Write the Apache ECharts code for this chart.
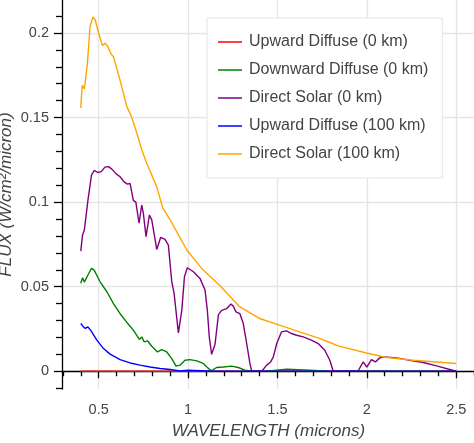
<!DOCTYPE html>
<html lang="en">
<head>
<meta charset="UTF-8">
<title>Solar flux</title>
<script src="https://cdn.jsdelivr.net/npm/echarts@6/dist/echarts.min.js"></script>
<style>
  html, body { margin: 0; padding: 0; background: #fff; }
  #chart { width: 474px; height: 443px; }
</style>
</head>
<body>
<div id="chart"></div>
<script>
// wavelength (microns) / flux (W/cm2/micron)
var wlUpDiff0 = [0.40, 2.50];
var fluxUpDiff0 = [0, 0];

var wlDownDiff0 = [0.40, 0.41, 0.42, 0.44, 0.46, 0.475, 0.508, 0.546, 0.583, 0.62, 0.657, 0.694,
  0.728, 0.741, 0.754, 0.773, 0.797, 0.829, 0.853, 0.881, 0.909, 0.933, 0.955, 0.983, 1.011,
  1.049, 1.085, 1.108, 1.13, 1.16, 1.197, 1.244, 1.281, 1.318, 1.356, 1.44, 1.496, 1.551,
  1.68, 1.79, 2.50];
var fluxDownDiff0 = [0.052, 0.0553, 0.0527, 0.0569, 0.0608, 0.0598, 0.0529, 0.047, 0.040, 0.034,
  0.029, 0.0243, 0.0188, 0.0203, 0.0174, 0.018, 0.0148, 0.0114, 0.0128, 0.0114, 0.0075, 0.003,
  0.0036, 0.0065, 0.0069, 0.0061, 0.0046, 0.0022, 0.0002, 0.0022, 0.0025, 0.003, 0.0022,
  0.0006, 0, 0, 0.0006, 0.0012, 0.0006, 0, 0];

var wlDirect0 = [0.40, 0.41, 0.42, 0.44, 0.46, 0.475, 0.495, 0.515, 0.535, 0.555, 0.574, 0.598,
  0.62, 0.642, 0.661, 0.676, 0.694, 0.708, 0.726, 0.741, 0.75, 0.765, 0.784, 0.797, 0.825,
  0.847, 0.871, 0.89, 0.909, 0.922, 0.946, 0.965, 0.98, 0.996, 1.03, 1.067, 1.095, 1.108,
  1.119, 1.132, 1.151, 1.17, 1.188, 1.216, 1.24, 1.253, 1.268, 1.29, 1.309, 1.328, 1.346,
  1.356, 1.412, 1.44, 1.462, 1.477, 1.496, 1.523, 1.551, 1.579, 1.607, 1.644, 1.69, 1.728,
  1.765, 1.793, 1.812, 1.95, 1.98, 2.0, 2.026, 2.048, 2.072, 2.10, 2.166, 2.24, 2.315, 2.39, 2.50];
var fluxDirect0 = [0.071, 0.0806, 0.0835, 0.101, 0.116, 0.1187, 0.1175, 0.118, 0.1207, 0.121,
  0.1195, 0.1167, 0.115, 0.112, 0.1106, 0.111, 0.101, 0.100, 0.0875, 0.0983, 0.0934, 0.0796,
  0.0924, 0.0895, 0.072, 0.0792, 0.078, 0.0746, 0.0529, 0.046, 0.0227, 0.036, 0.0559, 0.0612,
  0.0588, 0.0549, 0.048, 0.036, 0.020, 0.0100, 0.016, 0.0335, 0.036, 0.037, 0.0397, 0.0385,
  0.0351, 0.034, 0.0282, 0.0164, 0.0046, 0, 0, 0.0036, 0.0055, 0.0085, 0.0164, 0.0233, 0.0239,
  0.0223, 0.0213, 0.0203, 0.0184, 0.0164, 0.0124, 0.0065, 0, 0, 0.0055, 0.0025, 0.0069, 0.0055,
  0.0079, 0.0085, 0.0079, 0.0065, 0.0052, 0.0032, 0];

var wlUpDiff100 = [0.40, 0.41, 0.425, 0.44, 0.455, 0.49, 0.527, 0.564, 0.62, 0.676, 0.732, 0.788,
  0.844, 0.90, 0.955, 1.0, 1.07, 1.14, 2.50];
var fluxUpDiff100 = [0.0282, 0.0268, 0.0253, 0.0262, 0.0243, 0.0184, 0.0134, 0.0101, 0.0069,
  0.0049, 0.0036, 0.0025, 0.0016, 0.001, 0.0002, 0.0006, 0.0003, 0, 0];

var wlDirect100 = [0.40, 0.408, 0.42, 0.437, 0.452, 0.468, 0.48, 0.50, 0.521, 0.536, 0.551, 0.57,
  0.583, 0.62, 0.657, 0.682, 0.713, 0.741, 0.769, 0.825, 0.859, 0.90, 0.993, 1.067, 1.085,
  1.179, 1.29, 1.40, 1.512, 1.623, 1.735, 1.793, 1.84, 1.998, 2.11, 2.259, 2.50];
var fluxDirect100 = [0.1556, 0.169, 0.167, 0.182, 0.204, 0.2095, 0.208, 0.200, 0.1925, 0.194,
  0.192, 0.1875, 0.186, 0.172, 0.1566, 0.151, 0.141, 0.131, 0.123, 0.109, 0.0964, 0.0895,
  0.0717, 0.0620, 0.0598, 0.0505, 0.038, 0.0312, 0.0273, 0.0233, 0.0194, 0.0170, 0.015,
  0.0108, 0.0081, 0.0065, 0.0046];

var xMajor = [0.5, 1, 1.5, 2, 2.5];
var xMinor = [0.3, 0.4, 0.6, 0.7, 0.8, 0.9, 1.1, 1.2, 1.3, 1.4, 1.6, 1.7, 1.8, 1.9,
  2.1, 2.2, 2.3, 2.4, 2.6];
var yMajor = [0, 0.05, 0.1, 0.15, 0.2];
var yMinor = [-0.01, 0.01, 0.02, 0.03, 0.04, 0.06, 0.07, 0.08, 0.09, 0.11, 0.12, 0.13, 0.14,
  0.16, 0.17, 0.18, 0.19, 0.21];

var seriesNames = ['Upward Diffuse (0 km)', 'Downward Diffuse (0 km)', 'Direct Solar (0 km)',
  'Upward Diffuse (100 km)', 'Direct Solar (100 km)'];
var seriesColors = ['red', 'green', 'purple', 'blue', 'orange'];

function pairs(xs, ys) {
  return xs.map(function (x, i) { return [x, ys[i]]; });
}
var allData = [
  pairs(wlUpDiff0, fluxUpDiff0),
  pairs(wlDownDiff0, fluxDownDiff0),
  pairs(wlDirect0, fluxDirect0),
  pairs(wlUpDiff100, fluxUpDiff100),
  pairs(wlDirect100, fluxDirect100)
];

var font = 'Liberation Sans, Arial, Helvetica, sans-serif';
var X_MIN = 0.295, X_MAX = 2.605, Y_MIN = -0.0105, Y_MAX = 0.2195;

var chart = echarts.init(document.getElementById('chart'));
chart.setOption({
  animation: false,
  grid: { left: 62, right: -1, top: 0, bottom: 54, outerBoundsMode: 'none', containLabel: false },
  legend: {
    orient: 'vertical',
    left: 207, top: 18,
    padding: [16, 14, 16, 11],
    itemGap: 12,
    itemWidth: 24,
    itemHeight: 1.5,
    icon: 'rect',
    backgroundColor: '#fff',
    borderColor: '#e5e5e5',
    borderWidth: 1,
    data: seriesNames,
    textStyle: { fontFamily: font, fontSize: 16, color: '#444', lineHeight: 16, padding: [0, 0, 0, 2] }
  },
  xAxis: [
    {
      type: 'value', min: X_MIN, max: X_MAX, position: 'bottom',
      name: 'WAVELENGTH (microns)', nameLocation: 'middle', nameGap: 34, nameMoveOverlap: false,
      nameTextStyle: { fontFamily: font, fontSize: 17, fontStyle: 'italic', color: '#444' },
      axisLine: { show: true, lineStyle: { color: '#000', width: 1.3 } },
      axisTick: { show: true, customValues: xMajor, length: 7, lineStyle: { color: '#000', width: 1.3 } },
      axisLabel: { customValues: xMajor, margin: 13, fontFamily: font, fontSize: 14.5, color: '#444' },
      splitLine: { show: true, lineStyle: { color: '#e5e5e5', width: 1.3 } }
    },
    {
      type: 'value', min: X_MIN, max: X_MAX, position: 'bottom',
      axisLine: { show: false },
      axisTick: { show: true, customValues: xMinor, length: 5, lineStyle: { color: '#000', width: 1.3 } },
      axisLabel: { show: false },
      splitLine: { show: false }
    }
  ],
  yAxis: [
    {
      type: 'value', min: Y_MIN, max: Y_MAX, position: 'left',
      name: 'FLUX (W/cm²/micron)', nameLocation: 'middle', nameGap: 47, nameMoveOverlap: false,
      nameTextStyle: { fontFamily: font, fontSize: 17, fontStyle: 'italic', color: '#444' },
      axisLine: { show: true, lineStyle: { color: '#000', width: 1.3 } },
      axisTick: { show: true, customValues: yMajor, length: 8, lineStyle: { color: '#000', width: 1.3 } },
      axisLabel: { customValues: yMajor, margin: 13, fontFamily: font, fontSize: 14.5, color: '#444' },
      splitLine: { show: true, lineStyle: { color: '#e5e5e5', width: 1.3 } }
    },
    {
      type: 'value', min: Y_MIN, max: Y_MAX, position: 'left',
      axisLine: { show: false },
      axisTick: { show: true, customValues: yMinor, length: 6, lineStyle: { color: '#000', width: 1.3 } },
      axisLabel: { show: false },
      splitLine: { show: false }
    }
  ],
  series: seriesNames.map(function (name, i) {
    return {
      name: name,
      type: 'line',
      xAxisIndex: 0,
      yAxisIndex: 0,
      data: allData[i],
      showSymbol: false,
      symbol: 'none',
      color: seriesColors[i],
      lineStyle: { color: seriesColors[i], width: 1.4 }
    };
  })
});
</script>
</body>
</html>
